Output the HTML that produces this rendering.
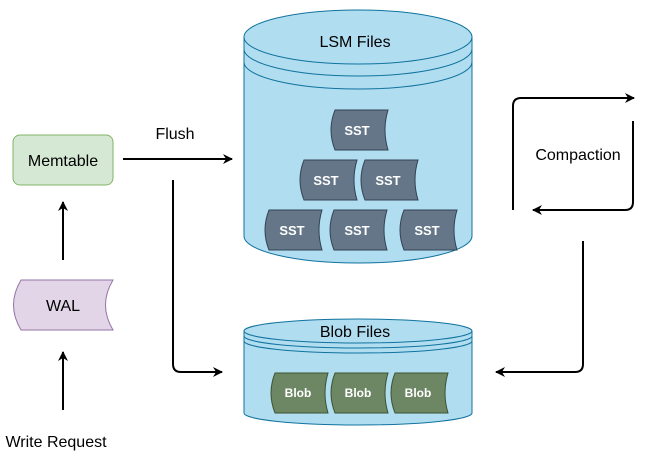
<!DOCTYPE html>
<html><head><meta charset="utf-8"><style>body{margin:0;background:#fff}svg{display:block}</style></head>
<body>
<svg width="668" height="457" viewBox="0 0 668 457" xmlns="http://www.w3.org/2000/svg" font-family="Liberation Sans, sans-serif">
<defs>
<marker id="a" markerWidth="10" markerHeight="10" refX="9" refY="5" orient="auto" markerUnits="userSpaceOnUse">
<path d="M0,0 L10,5 L0,10 L3,5 Z" fill="#000"/></marker>
<g id="sst"><path d="M6,0 H59 Q53,20 59,40 H6 Q-2,20 6,0 Z" fill="#647687" stroke="#314354"/></g>
<g id="blob"><path d="M6,0 H59 Q53,20 59,40 H6 Q-2,20 6,0 Z" fill="#6d8764" stroke="#3a5431"/></g>
</defs>
<path d="M244,37 A114,27 0 0 1 472,37 V236 A114,27 0 0 1 244,236 Z" fill="#b1ddf0" stroke="#10739e"/>
<path d="M244,37 A114,27 0 0 0 472,37 M244,49 A114,27 0 0 0 472,49 M244,62 A114,27 0 0 0 472,62" fill="none" stroke="#10739e"/>
<text x="355" y="47" font-size="16" text-anchor="middle">LSM Files</text>
<use href="#sst" x="329" y="110"/><use href="#sst" x="298" y="160"/><use href="#sst" x="359" y="160"/>
<use href="#sst" x="263" y="210"/><use href="#sst" x="328" y="210"/><use href="#sst" x="398" y="210"/>
<g font-size="13" font-weight="bold" fill="#fff" text-anchor="middle">
<text x="357" y="135">SST</text><text x="326" y="185">SST</text><text x="388" y="185">SST</text>
<text x="292" y="235">SST</text><text x="357" y="235">SST</text><text x="427" y="235">SST</text></g>
<path d="M244,331 A114,12 0 0 1 472,331 V413 A114,12 0 0 1 244,413 Z" fill="#b1ddf0" stroke="#10739e"/>
<path d="M244,331 A114,12 0 0 0 472,331 M244,336 A114,12 0 0 0 472,336 M244,341 A114,12 0 0 0 472,341" fill="none" stroke="#10739e"/>
<text x="355" y="337" font-size="16" text-anchor="middle">Blob Files</text>
<use href="#blob" x="269" y="373"/><use href="#blob" x="329" y="373"/><use href="#blob" x="389" y="373"/>
<g font-size="12" font-weight="bold" fill="#fff" text-anchor="middle">
<text x="298" y="397">Blob</text><text x="358" y="397">Blob</text><text x="418" y="397">Blob</text></g>
<rect x="13" y="135" width="100" height="50" rx="7" fill="#d5e8d4" stroke="#82b366"/>
<text x="63" y="166" font-size="16" text-anchor="middle">Memtable</text>
<path d="M21,280 H113 Q98,305 113,330 H21 Q6,305 21,280 Z" fill="#e1d5e7" stroke="#9673a6"/>
<text x="63" y="311" font-size="16" text-anchor="middle">WAL</text>
<text x="56" y="447" font-size="16" text-anchor="middle">Write Request</text>
<text x="175" y="139" font-size="16" text-anchor="middle">Flush</text>
<text x="578" y="160" font-size="16" text-anchor="middle">Compaction</text>
<g fill="none" stroke="#000" stroke-width="2">
<path d="M63,260 V202" marker-end="url(#a)"/>
<path d="M63,410 V352" marker-end="url(#a)"/>
<path d="M123,159 H232" marker-end="url(#a)"/>
<path d="M173,180 V364 Q173,372 181,372 H222" marker-end="url(#a)"/>
<path d="M513,210 V106 Q513,98 521,98 H634" marker-end="url(#a)"/>
<path d="M633,121 V202 Q633,210 625,210 H533" marker-end="url(#a)"/>
<path d="M583,241 V364 Q583,372 575,372 H496" marker-end="url(#a)"/>
</g>
</svg>
</body></html>
